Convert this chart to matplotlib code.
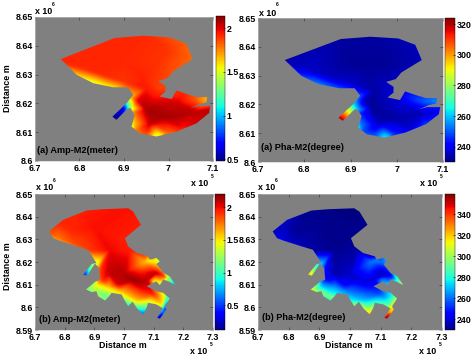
import numpy as np
import matplotlib
matplotlib.use("Agg")
import matplotlib.pyplot as plt
import matplotlib.tri as mtri
from matplotlib.patches import Polygon
from matplotlib.cm import ScalarMappable
from matplotlib.colors import Normalize

W, H = 474, 357
plt.rcParams['font.family'] = ['Liberation Sans', 'DejaVu Sans']
plt.rcParams['font.weight'] = 'bold'

# Domain outlines (x in 1e5 m, y in 1e6 m)
outline_top_x = [6.758,6.879,6.943,7.003,7.040,7.054,7.010,6.998,6.977,6.993,6.993,6.980,7.007,7.018,7.040,7.063,7.087,7.085,7.070,7.048,7.067,7.094,7.091,7.063,7.018,6.973,6.936,6.917,6.924,6.915,6.909,6.883,6.874,6.906,6.921,6.909,6.876,6.831,6.794]
outline_top_y = [8.6354,8.6427,8.6435,8.6429,8.6407,8.6354,8.6311,8.6288,8.6278,8.6261,8.6241,8.6224,8.6215,8.6245,8.6233,8.6222,8.6222,8.6203,8.6198,8.6183,8.6191,8.6191,8.6166,8.6131,8.6102,8.6085,8.6096,8.6119,8.6160,8.6183,8.6183,8.6143,8.6154,8.6201,8.6230,8.6256,8.6256,8.6270,8.6299]
outline_bot_x = [6.748,6.795,6.874,6.930,7.014,7.031,7.057,7.003,7.014,7.042,7.081,7.087,7.109,7.121,7.109,7.132,7.154,7.174,7.149,7.132,7.121,7.109,7.076,7.109,7.132,7.154,7.137,7.143,7.121,7.112,7.132,7.109,7.081,7.076,7.064,7.044,7.029,7.014,7.000,6.992,6.958,6.950,6.936,6.913,6.907,6.891,6.872,6.902,6.919,6.916,6.902,6.876,6.863,6.891,6.907,6.879,6.835,6.784,6.762]
outline_bot_y = [8.6335,8.6386,8.6427,8.6433,8.6437,8.6422,8.6364,8.6305,8.6269,8.6240,8.6225,8.6210,8.6218,8.6203,8.6191,8.6152,8.6137,8.6098,8.6115,8.6123,8.6098,8.6115,8.6093,8.6071,8.6064,8.6039,8.6005,8.5991,8.5950,8.5954,8.5995,8.6013,8.6020,8.5998,8.5969,8.5995,8.6025,8.6005,8.6035,8.6057,8.6064,8.6049,8.6030,8.6049,8.6071,8.6067,8.6079,8.6112,8.6122,8.6174,8.6193,8.6140,8.6144,8.6191,8.6196,8.6254,8.6272,8.6294,8.6305]

# Values read at sample locations, top row
top_x   = [6.74,6.88,6.95,7.04,7.06,6.90,6.98,6.80,6.83,6.875,6.81,6.85,6.90,6.95,6.98,6.95,6.93,6.92,6.912,6.907,6.90,6.875,6.885,6.915,6.92,6.96,6.975,6.95,7.00,7.00,7.03,7.06,7.06,7.10,7.03,7.06,7.09,7.02,6.975,6.93,7.10,6.87,7.0,6.94]
top_y   = [8.635,8.644,8.645,8.642,8.635,8.634,8.634,8.6295,8.627,8.6252,8.632,8.630,8.6275,8.625,8.625,8.618,8.621,8.617,8.622,8.620,8.618,8.615,8.614,8.618,8.613,8.613,8.609,8.609,8.6095,8.615,8.611,8.612,8.617,8.618,8.622,8.621,8.621,8.620,8.6125,8.6105,8.613,8.637,8.638,8.630]
top_amp = [1.92,1.92,1.92,1.82,1.8,1.92,1.9,1.62,1.48,1.55,1.92,1.92,1.9,1.95,1.88,2.08,2.0,1.75,1.6,1.15,0.6,0.5,0.5,1.4,1.6,2.05,1.5,1.85,1.8,2.08,1.95,2.0,2.05,2.05,1.95,1.85,1.65,2.02,1.95,1.8,2.0,1.92,1.9,1.93]
top_pha = [234,233,233,235,235,232,232,247,254,250,236,235,236,233,236,232,234,245,255,262,285,322,320,260,255,236,262,250,245,233,238,250,235,240,245,250,255,238,240,248,250,233,233,233]

# Values read at sample locations, bottom row
bot_x   = [6.74,6.78,6.87,7.01,7.06,6.90,6.83,6.88,6.775,7.00,6.95,7.02,7.07,6.95,7.00,7.03,6.91,6.91,6.875,6.89,6.945,6.95,6.99,7.00,7.03,7.06,7.045,7.06,7.10,7.14,7.13,7.14,7.118,7.08,7.06,7.07,7.09,7.11,7.11,7.14,7.15,7.17,7.125,7.10,6.865,6.88,6.905,6.92,6.98,6.93,6.82]
bot_y   = [8.633,8.637,8.644,8.645,8.636,8.635,8.628,8.625,8.6305,8.630,8.625,8.625,8.623,8.615,8.615,8.612,8.613,8.610,8.608,8.607,8.605,8.609,8.607,8.603,8.601,8.597,8.603,8.608,8.606,8.6045,8.601,8.600,8.595,8.612,8.6155,8.620,8.621,8.620,8.615,8.614,8.612,8.610,8.610,8.612,8.614,8.617,8.619,8.617,8.610,8.612,8.634]
bot_amp = [1.85,1.93,1.95,1.98,1.95,1.98,1.85,1.88,1.75,1.95,2.0,1.95,1.9,2.08,2.1,2.15,1.75,1.5,1.15,1.2,1.15,1.6,1.6,1.15,1.1,0.6,1.6,2.0,1.95,1.4,1.5,0.5,0.25,2.1,1.95,1.6,1.4,1.45,2.1,1.9,1.1,0.8,1.3,1.5,0.35,0.9,1.3,1.9,2.05,1.95,1.93]
bot_pha = [238,238,232,230,232,232,236,234,240,232,232,234,236,235,238,240,250,265,310,300,285,265,262,278,300,320,270,250,255,280,290,320,355,240,250,262,265,262,235,245,280,300,275,262,325,300,275,245,245,245,233]

# Colour limits
amp_top_lim = (0.48, 2.14)
pha_top_lim = (230, 324)
amp_bot_lim = (0.125, 2.2)
pha_bot_lim = (230, 359)

amp_ticks = [0.5, 1, 1.5, 2]
pha_top_ticks = [240, 260, 280, 300, 320]
pha_bot_ticks = [240, 260, 280, 300, 320, 340]

x_top_ticks = [6.7, 6.8, 6.9, 7, 7.1]
y_top_ticks = [8.6, 8.61, 8.62, 8.63, 8.64, 8.65]
x_bot_ticks = [6.7, 6.8, 6.9, 7, 7.1, 7.2, 7.3]
y_bot_ticks = [8.59, 8.6, 8.61, 8.62, 8.63, 8.64, 8.65]

FS = 6.4
fig = plt.figure(figsize=(W/100, H/100), dpi=100, facecolor='white')

def box(l, t, r, b):
    return [l/W, 1-b/H, (r-l)/W, (b-t)/H]

def txt(x, y, s, **kw):
    kw.setdefault('fontsize', FS)
    kw.setdefault('va', 'center')
    fig.text(x/W, 1-y/H, s, **kw)

def field(sx, sy, vals, xlim, ylim):
    # Shading across the values read at the sample locations
    sx, sy, vals = map(np.asarray, (sx, sy, vals))
    gx = np.linspace(*xlim, 360)
    gy = np.linspace(*ylim, 300)
    X, Y = np.meshgrid(gx, gy)
    k = 8.0
    tri = mtri.Triangulation(sx, sy*k)
    Z = mtri.LinearTriInterpolator(tri, vals)(X, Y*k)
    d2 = (X[..., None]-sx)**2 + ((Y[..., None]-sy)*k)**2 + 1e-7
    w = d2**-2.0
    far = (w*vals).sum(-1)/w.sum(-1)
    Z = np.where(np.ma.getmaskarray(Z), far, np.ma.getdata(Z))
    # light smoothing, the reference is a soft raster
    ker = np.ones(7)/7
    Z = np.apply_along_axis(lambda r: np.convolve(np.pad(r, 3, mode='edge'), ker, 'valid'), 1, Z)
    Z = np.apply_along_axis(lambda r: np.convolve(np.pad(r, 3, mode='edge'), ker, 'valid'), 0, Z)
    return Z

def panel(rect, cbrect, ox, oy, sx, sy, vals, lim, cticks, xlim, ylim, xt, yt, label, lab_xy):
    ax = fig.add_axes(box(*rect), facecolor=(0.5, 0.5, 0.5))
    im = ax.imshow(field(sx, sy, vals, xlim, ylim), origin='lower', extent=(*xlim, *ylim),
                   aspect='auto', cmap='jet', vmin=lim[0], vmax=lim[1], interpolation='bilinear')
    clip = Polygon(list(zip(ox, oy)), closed=True, transform=ax.transData)
    im.set_clip_path(clip)
    ax.set_xlim(*xlim); ax.set_ylim(*ylim)
    ax.set_xticks(xt); ax.set_xticklabels([f'{v:g}' for v in xt])
    ax.set_yticks(yt); ax.set_yticklabels([f'{v:g}' for v in yt])
    ax.tick_params(direction='in', length=2, width=0.4, labelsize=FS, pad=1.5,
                   top=True, right=True, color='#303030')
    ax.tick_params(axis='x', pad=2.2)
    for s in ax.spines.values():
        s.set_linewidth(0.4); s.set_color('#c8c8c8')
    cax = fig.add_axes(box(*cbrect))
    cb = fig.colorbar(ScalarMappable(Normalize(*lim), 'jet'), cax=cax)
    cb.set_ticks(cticks); cb.set_ticklabels([f'{v:g}' for v in cticks])
    cb.ax.tick_params(length=1.5, width=0.4, labelsize=FS, pad=1, direction='in')
    cb.outline.set_linewidth(0.3)
    txt(lab_xy[0], lab_xy[1], label, fontsize=6.6)
    return ax

panel((35,17,213,161), (216,16,225,161), outline_top_x, outline_top_y, top_x, top_y, top_amp, amp_top_lim,
      amp_ticks, (6.7,7.1), (8.6,8.65), x_top_ticks, y_top_ticks, '(a) Amp-M2(meter)', (37,150))
panel((258,18,443,162), (445,18,455,162), outline_top_x, outline_top_y, top_x, top_y, top_pha, pha_top_lim,
      pha_top_ticks, (6.7,7.1), (8.6,8.65), x_top_ticks, y_top_ticks, '(a) Pha-M2(degree)', (261,147))
panel((35,194,213,330), (215,194,225,330), outline_bot_x, outline_bot_y, bot_x, bot_y, bot_amp, amp_bot_lim,
      amp_ticks, (6.7,7.3), (8.59,8.65), x_bot_ticks, y_bot_ticks, '(b) Amp-M2(meter)', (39,320))
panel((258,194,442,330), (445,194,455,330), outline_bot_x, outline_bot_y, bot_x, bot_y, bot_pha, pha_bot_lim,
      pha_bot_ticks, (6.7,7.3), (8.59,8.65), x_bot_ticks, y_bot_ticks, '(b) Pha-M2(degree)', (262,318))

# Multiplier labels
for x, y, ex, ey, e in [(35,12,53,5,'6'), (259,13,277,5,'6'), (36,188,54,181,'6'), (258,188,276,181,'6'),
                        (191,184,212,176.5,'5'), (420,184,441,176.5,'5'), (190,351,211,344,'5'), (419,351,440,344,'5')]:
    txt(x, y, 'x 10')
    txt(ex, ey, e, fontsize=3.5, ha='center')

# Axis titles
txt(8, 88, 'Distance m', rotation=90, ha='center')
txt(8, 266, 'Distance m', rotation=90, ha='center')
txt(123, 346, 'Distance m', ha='center')
txt(349, 346, 'Distance m', ha='center')

fig.savefig('out.png', dpi=100)
